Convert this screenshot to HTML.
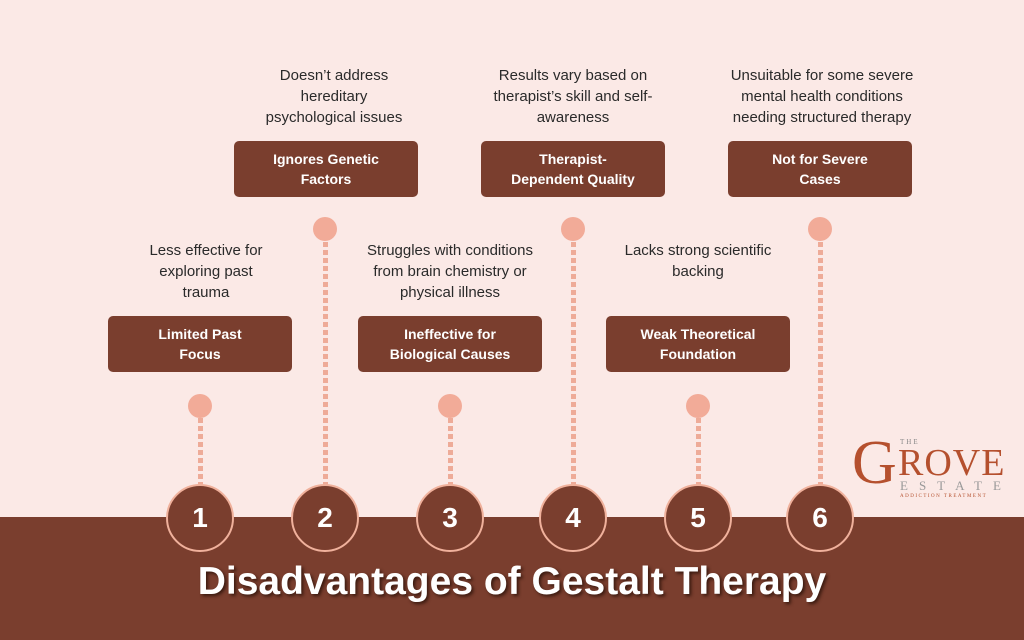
<!DOCTYPE html>
<html><head><style>
body{margin:0;width:1024px;height:640px;background:#fbe9e6;position:relative;overflow:hidden;font-family:"Liberation Sans",sans-serif}
.band{position:absolute;left:0;top:517px;width:1024px;height:123px;background:#7a3e2e}
.c{position:absolute;width:64px;height:64px;border-radius:50%;background:#7a3e2e;border:2px solid #f0b19c;color:#fff;font-weight:bold;font-size:28px;text-align:center;line-height:64px;top:484px}
.box{position:absolute;width:184px;height:56px;background:#7a3e2e;border-radius:5px;color:#fff;font-weight:bold;font-size:14px;text-align:center;display:flex;align-items:center;justify-content:center;line-height:20px}
.dot{position:absolute;width:24px;height:24px;border-radius:50%;background:#f2ab98}
.ln{position:absolute;width:5px;background:repeating-linear-gradient(to bottom,#eeab98 0 5px,transparent 5px 8px)}
.t{position:absolute;width:220px;text-align:center;color:#2a2a2a;font-size:15px;line-height:21px}
.title{position:absolute;top:560px;left:0;width:1024px;text-align:center;color:#fff;font-weight:bold;font-size:39px;text-shadow:2px 2px 3px #3a1a10}
</style></head><body>
<div class="band"></div>

<div class="ln" style="left:198px;top:418px;height:68px"></div>
<div class="ln" style="left:323px;top:242px;height:244px"></div>
<div class="ln" style="left:448px;top:418px;height:68px"></div>
<div class="ln" style="left:571px;top:242px;height:244px"></div>
<div class="ln" style="left:696px;top:418px;height:68px"></div>
<div class="ln" style="left:818px;top:242px;height:244px"></div>

<div class="dot" style="left:188px;top:394px"></div>
<div class="dot" style="left:313px;top:217px"></div>
<div class="dot" style="left:438px;top:394px"></div>
<div class="dot" style="left:561px;top:217px"></div>
<div class="dot" style="left:686px;top:394px"></div>
<div class="dot" style="left:808px;top:217px"></div>

<div class="c" style="left:166px">1</div>
<div class="c" style="left:291px">2</div>
<div class="c" style="left:416px">3</div>
<div class="c" style="left:539px">4</div>
<div class="c" style="left:664px">5</div>
<div class="c" style="left:786px">6</div>

<div class="box" style="left:108px;top:316px">Limited Past<br>Focus</div>
<div class="box" style="left:234px;top:141px">Ignores Genetic<br>Factors</div>
<div class="box" style="left:358px;top:316px">Ineffective for<br>Biological Causes</div>
<div class="box" style="left:481px;top:141px">Therapist-<br>Dependent Quality</div>
<div class="box" style="left:606px;top:316px">Weak Theoretical<br>Foundation</div>
<div class="box" style="left:728px;top:141px">Not for Severe<br>Cases</div>

<div class="t" style="left:96px;top:240px">Less effective for<br>exploring past<br>trauma</div>
<div class="t" style="left:224px;top:65px">Doesn’t address<br>hereditary<br>psychological issues</div>
<div class="t" style="left:340px;top:240px">Struggles with conditions<br>from brain chemistry or<br>physical illness</div>
<div class="t" style="left:463px;top:65px">Results vary based on<br>therapist’s skill and self-<br>awareness</div>
<div class="t" style="left:588px;top:240px">Lacks strong scientific<br>backing</div>
<div class="t" style="left:712px;top:65px">Unsuitable for some severe<br>mental health conditions<br>needing structured therapy</div>

<div style="position:absolute;left:852px;top:438px;font-family:'Liberation Serif',serif;color:#b5502e">
<span style="font-size:62px;position:absolute;left:0;top:-6px;line-height:62px">G</span>
<span style="font-size:38px;position:absolute;left:46px;top:6px;line-height:38px;letter-spacing:1px">ROVE</span>
<span style="font-size:7px;position:absolute;left:48px;top:0;color:#888;letter-spacing:2px">THE</span>
<span style="font-size:13px;position:absolute;left:48px;top:41px;letter-spacing:11px;color:#999;line-height:13px">ESTATE</span>
<span style="font-size:5px;position:absolute;left:48px;top:56px;color:#b5502e;letter-spacing:1.5px;white-space:nowrap">ADDICTION TREATMENT</span>
</div>

<div class="title">Disadvantages of Gestalt Therapy</div>
</body></html>
